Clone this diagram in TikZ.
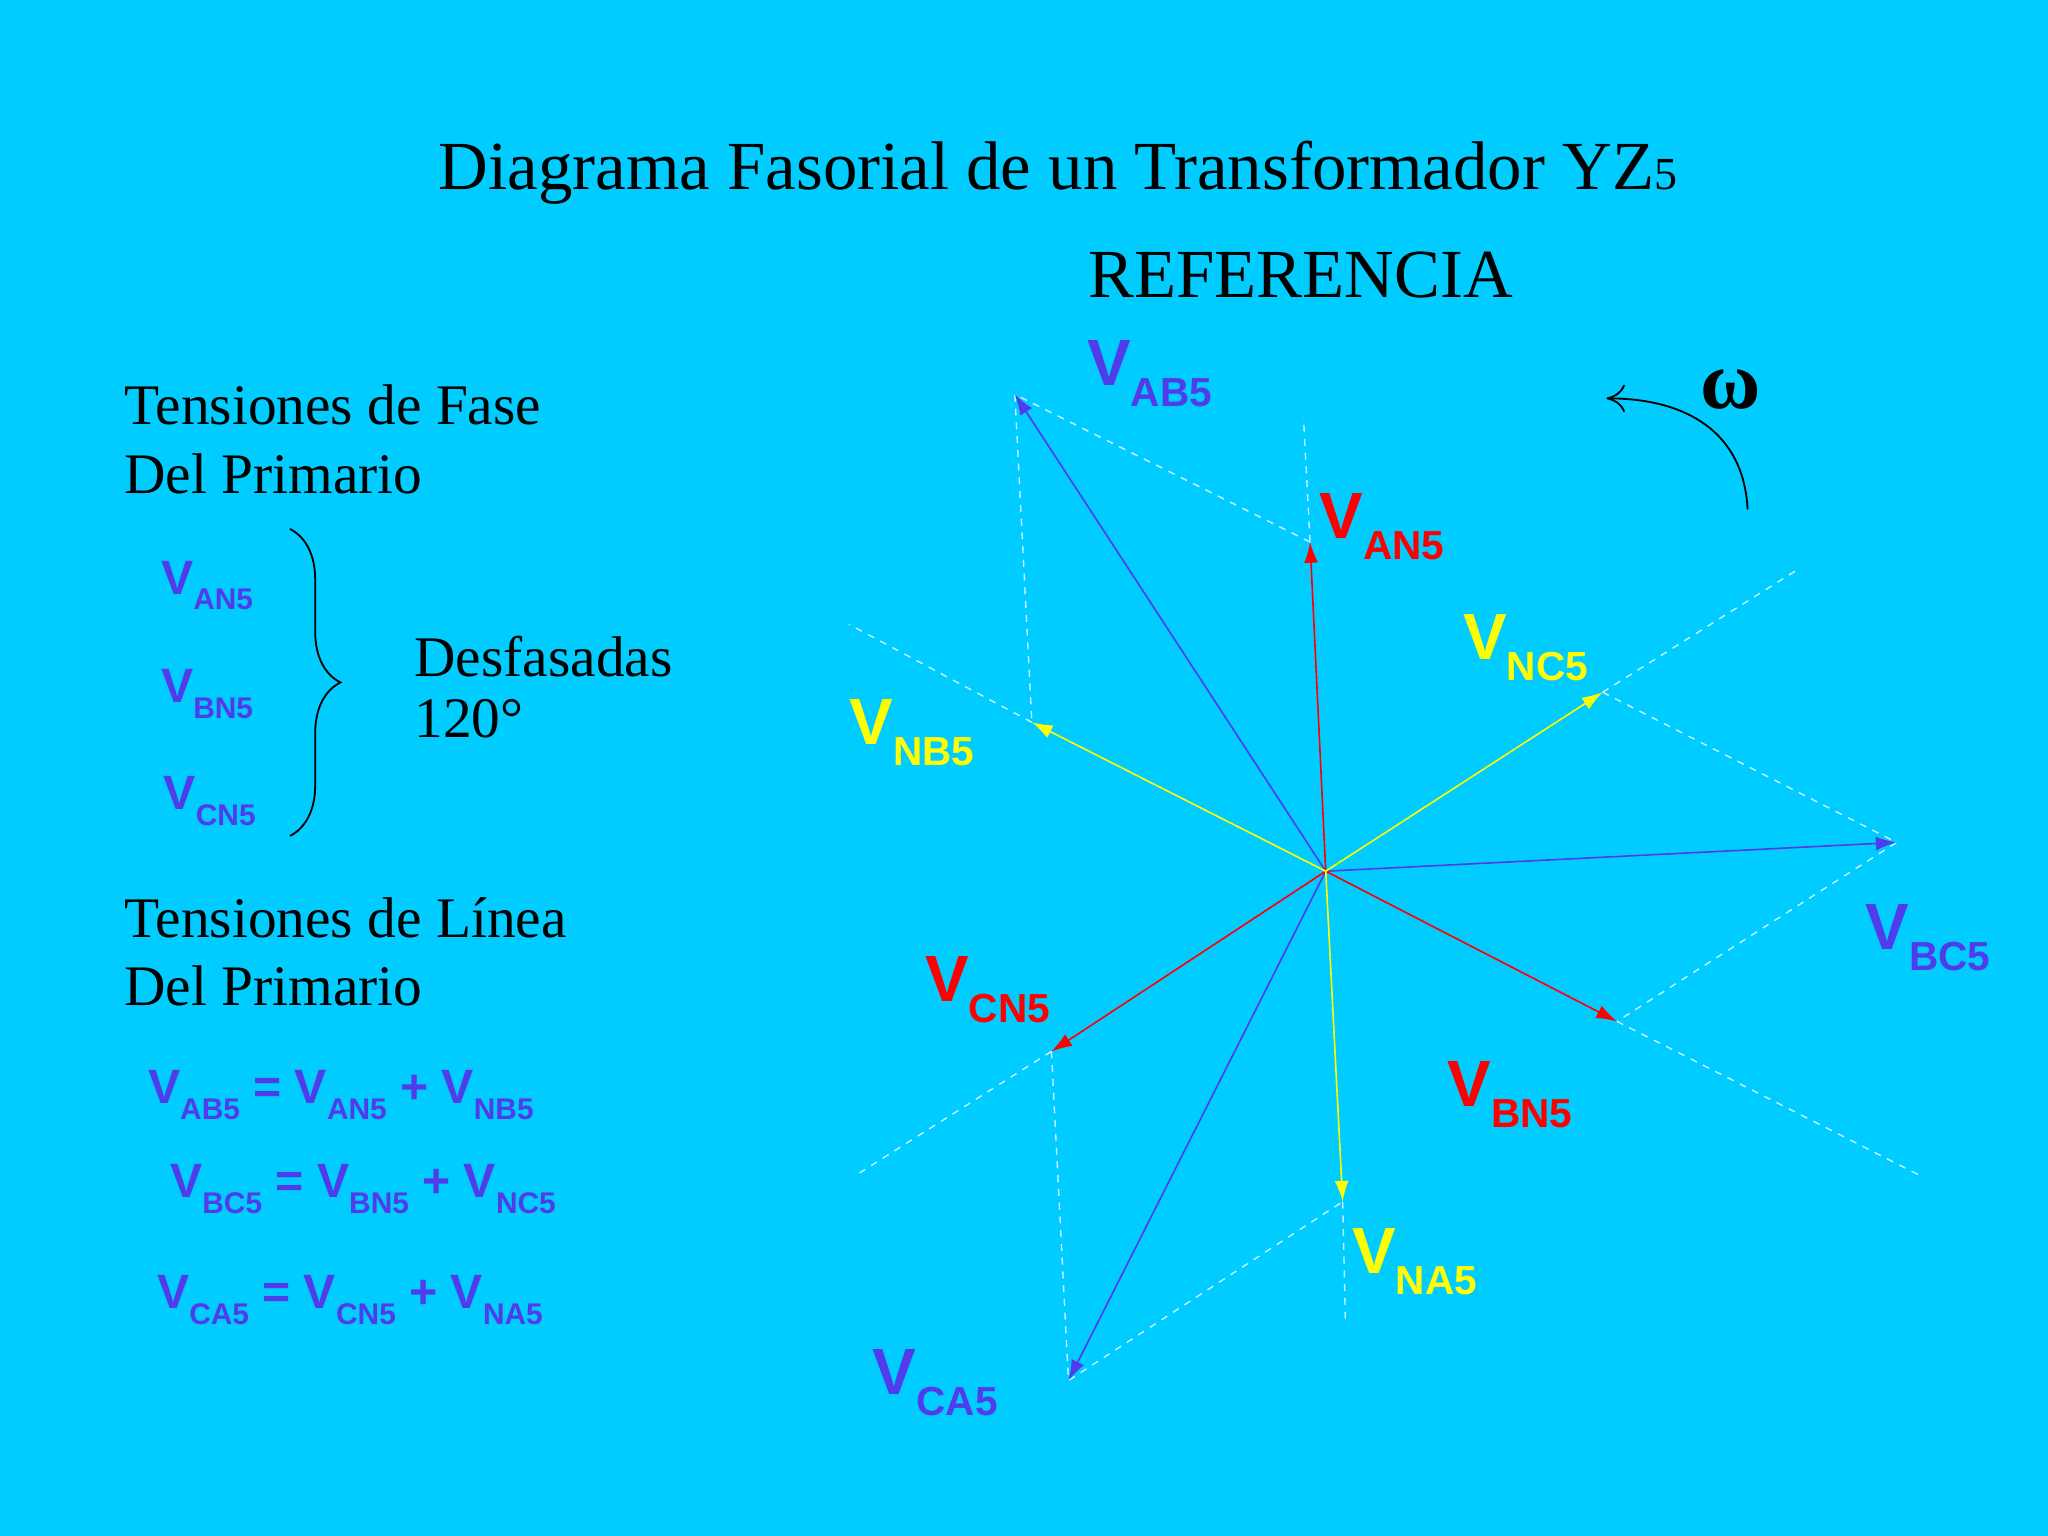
\documentclass[tikz,border=0pt]{standalone}
\usepackage{fontspec}
\usepackage{graphicx}
\setmainfont{Liberation Serif}
\newfontfamily\arialb{Liberation Sans}
\usetikzlibrary{arrows.meta,decorations.pathreplacing}
\definecolor{bgcyan}{RGB}{0,204,255}
\definecolor{vblue}{RGB}{80,60,235}
\definecolor{vred}{RGB}{255,0,0}
\definecolor{vyellow}{RGB}{255,255,0}
\newcommand\vlab[1]{V\raisebox{-0.32em}{\scalebox{0.62}{#1}}}
\tikzset{
  phasor/.style={line width=0.7pt,-{Latex[length=9pt,width=6pt]}},
  guide/.style={white!80!bgcyan,dashed,line width=0.6pt},
  biglab/.style={anchor=base west,inner sep=0pt,font=\arialb\bfseries\fontsize{28.5}{28.5}\selectfont},
  smalllab/.style={anchor=base west,inner sep=0pt,font=\arialb\bfseries\fontsize{21}{21}\selectfont,text=vblue},
  serif/.style={anchor=base west,inner sep=0pt,font=\fontsize{25}{25}\selectfont}
}
\begin{document}
\begin{tikzpicture}[x=0.02cm,y=-0.02cm]
\fill[bgcyan] (0,0) rectangle (1568,1176);
\useasboundingbox (0,0) rectangle (1568,1176);
% titles
\node[anchor=base,inner sep=0pt,font=\fontsize{30}{30}\selectfont] (title) at (810,145) {Diagrama Fasorial de un Transformador YZ{\fontsize{20}{20}\selectfont 5}};
\node[anchor=base,inner sep=0pt,font=\fontsize{30}{30}\selectfont] (ref) at (996,228) {REFERENCIA};
% left texts
\node[serif] (tfase) at (95,325) {Tensiones de Fase};
\node[serif] (delp1) at (95,378) {Del Primario};
\node[smalllab] (lan) at (123,455) {\vlab{AN5}};
\node[smalllab] (lbn) at (123,538) {\vlab{BN5}};
\node[smalllab] (lcn) at (125,620) {\vlab{CN5}};
\node[serif] (desf) at (317,518) {Desfasadas};
\node[serif] (grad) at (317,565) {120°};
\draw[line width=0.8pt,decorate,decoration={brace,amplitude=22pt}] (222,405) -- (222,640);
\node[serif] (tlinea) at (95,718) {Tensiones de Línea};
\node[serif] (delp2) at (95,770) {Del Primario};
\node[smalllab] (eq1) at (113,845) {\vlab{AB5} = \vlab{AN5} + \vlab{NB5}};
\node[smalllab] (eq2) at (130,917) {\vlab{BC5} = \vlab{BN5} + \vlab{NC5}};
\node[smalllab] (eq3) at (120,1002) {\vlab{CA5} = \vlab{CN5} + \vlab{NA5}};
% phasor tips
\coordinate (o) at (1015,667);
\coordinate (an) at (1003,415);
\coordinate (bn) at (1238,782);
\coordinate (cn) at (805,805);
\coordinate (na) at (1028,920);
\coordinate (nb) at (790,553);
\coordinate (nc) at (1227,530);
\coordinate (ab) at (777,302);
\coordinate (bc) at (1452,645);
\coordinate (ca) at (818,1057);
% guide lines
\draw[guide] (an) -- (ab) -- (nb);
\draw[guide] (nc) -- (bc) -- (bn);
\draw[guide] (cn) -- (ca) -- (na);
\draw[guide] (an) -- (998,320);
\draw[guide] (na) -- (1030,1010);
\draw[guide] (nb) -- (650,478);
\draw[guide] (nc) -- (1378,435);
\draw[guide] (cn) -- (655,900);
\draw[guide] (bn) -- (1470,900);
% phasors
\draw[phasor,vblue] (o) -- (ab);
\draw[phasor,vblue] (o) -- (bc);
\draw[phasor,vblue] (o) -- (ca);
\draw[phasor,vred] (o) -- (an);
\draw[phasor,vred] (o) -- (bn);
\draw[phasor,vred] (o) -- (cn);
\draw[phasor,vyellow] (o) -- (na);
\draw[phasor,vyellow] (o) -- (nb);
\draw[phasor,vyellow] (o) -- (nc);
% labels
\node[biglab,text=vblue] (tab) at (832,295) {\vlab{AB5}};
\node[biglab,text=vblue] (tbc) at (1428,727) {\vlab{BC5}};
\node[biglab,text=vblue] (tca) at (668,1068) {\vlab{CA5}};
\node[biglab,text=vred] (tan) at (1010,412) {\vlab{AN5}};
\node[biglab,text=vred] (tbn) at (1108,847) {\vlab{BN5}};
\node[biglab,text=vred] (tcn) at (708,767) {\vlab{CN5}};
\node[biglab,text=vyellow] (tna) at (1035,975) {\vlab{NA5}};
\node[biglab,text=vyellow] (tnb) at (650,570) {\vlab{NB5}};
\node[biglab,text=vyellow] (tnc) at (1120,505) {\vlab{NC5}};
% rotation
\node[inner sep=0pt,font=\fontsize{36}{36}\selectfont\bfseries] (omega) at (1325,298) {ω};
\coordinate (rs) at (1338,390);
\draw[line width=0.8pt,-{To[length=8pt,width=12pt]}] (rs) .. controls (1335,330) and (1290,305) .. (1230,305);
\end{tikzpicture}
\end{document}
